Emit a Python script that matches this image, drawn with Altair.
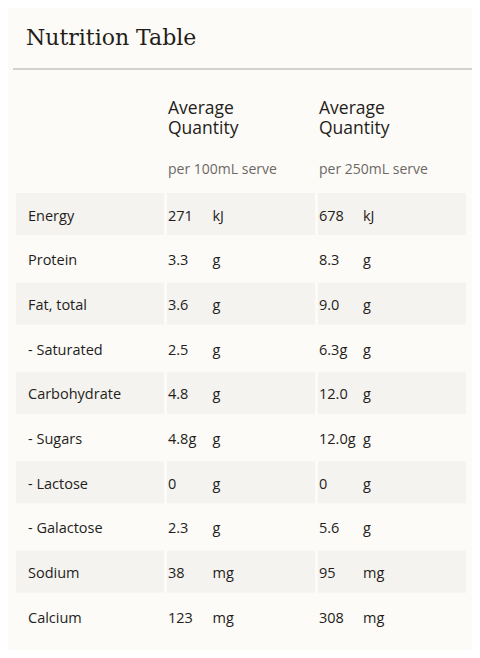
import altair as alt
import pandas as pd

# ---- data ----
title_text = "Nutrition Table"
header_lines = ["Average", "Quantity"]
serve_labels = ["per 100mL serve", "per 250mL serve"]
nutrients = ["Energy", "Protein", "Fat, total", "- Saturated", "Carbohydrate",
             "- Sugars", "- Lactose", "- Galactose", "Sodium", "Calcium"]
per100 = ["271", "3.3", "3.6", "2.5", "4.8", "4.8g", "0", "2.3", "38", "123"]
per250 = ["678", "8.3", "9.0", "6.3g", "12.0", "12.0g", "0", "5.6", "95", "308"]
units = ["kJ", "g", "g", "g", "g", "g", "g", "g", "mg", "mg"]
cell_cols = ["label", "q100", "q250"]

BG = "#fcfbf7"
SHADE = "#f4f3ef"
INK = "#241d1a"
GREY = "#6e6865"
FONT = "Open Sans"
TFONT = "DejaVu Serif"

table = pd.DataFrame({
    "nutrient": nutrients,
    "per100": per100,
    "per250": per250,
    "unit": units,
})

cells = pd.DataFrame([
    {"nutrient": n, "cell": c} for n in nutrients for c in cell_cols
])

yscale = alt.Scale(domain=nutrients, range=[183.65, 630.75],
                   paddingInner=0.0606, paddingOuter=0.0303)
yenc = alt.Y("nutrient:N", scale=yscale, axis=None, sort=nutrients)

nut_js = "[" + ",".join('"' + n + '"' for n in nutrients) + "]"
shade = alt.Chart(cells).transform_calculate(
    rowi=f"indexof({nut_js}, datum.nutrient)"
).transform_filter("datum.rowi % 2 == 0").mark_rect(color=SHADE).encode(
    x=alt.X("cell:N", sort=cell_cols, axis=None,
            scale=alt.Scale(domain=cell_cols, range=[8, 458],
                            paddingInner=0.02, paddingOuter=0)),
    y=yenc,
)

def col_text(field, xpos):
    return alt.Chart(table).mark_text(
        align="left", baseline="alphabetic", dy=6.5, font=FONT,
        fontSize=14.5, color=INK, fontWeight=500
    ).encode(x=alt.value(xpos), y=yenc, text=f"{field}:N")

labels = col_text("nutrient", 20)
v100 = col_text("per100", 160)
u100 = col_text("unit", 204.5)
v250 = col_text("per250", 311)
u250 = col_text("unit", 355)

def single(txt, x, y, size, color, font=FONT, weight="normal", lh=None):
    kw = dict(align="left", baseline="alphabetic", font=font, fontSize=size,
              color=color, fontWeight=weight)
    if lh is not None:
        kw["lineHeight"] = lh
    return alt.Chart(pd.DataFrame({"t": [txt]})).mark_text(**kw).encode(
        x=alt.value(x), y=alt.value(y), text="t:N")

title = single(title_text, 18, 37, 22, INK, font=TFONT, weight=500)
rule = alt.Chart(pd.DataFrame({"a": [0]})).mark_rule(
    color="#d3d2ce", strokeWidth=2
).encode(x=alt.value(5), x2=alt.value(472), y=alt.value(61))

heads = []
for xpos, serve in zip([160, 311], serve_labels):
    heads.append(single(header_lines, xpos, 106, 17.5, INK, weight=500, lh=20))
    heads.append(single(serve, xpos, 166, 14, GREY))

chart = alt.layer(
    shade, rule, title, *heads, labels, v100, u100, v250, u250
).resolve_scale(x="independent").properties(
    width=464, height=642, padding=0, autosize="none", background=BG
).configure_view(stroke=None)

chart.save("out.html", embed_options={"renderer": "svg", "actions": False})
